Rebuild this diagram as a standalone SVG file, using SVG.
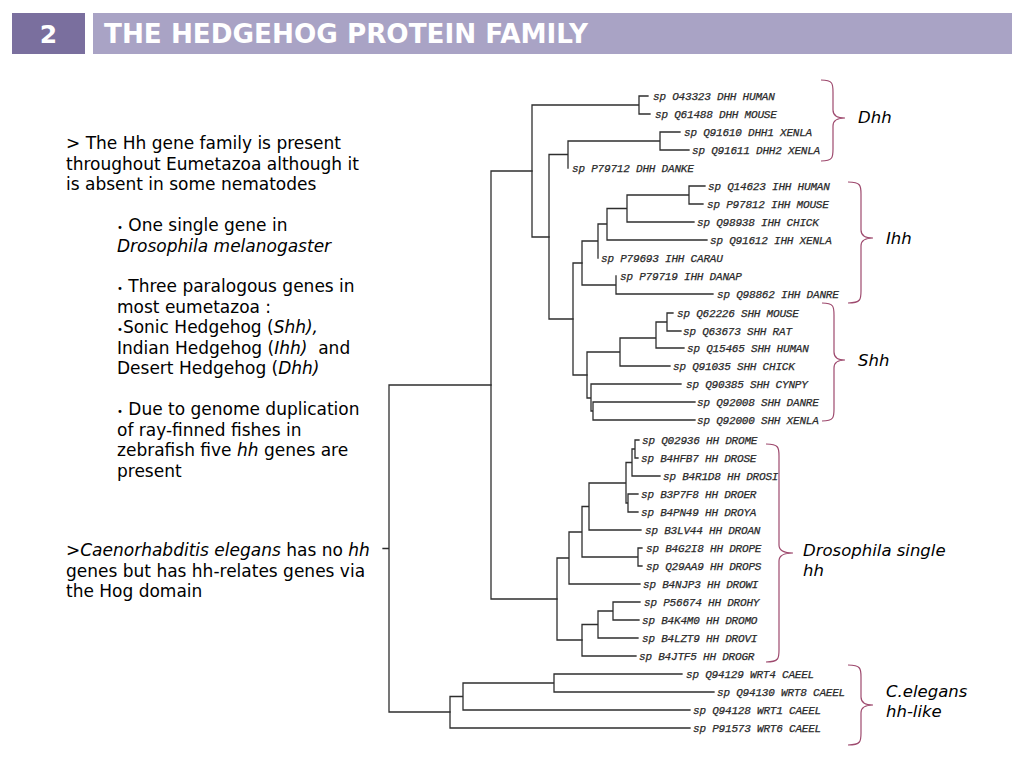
<svg xmlns="http://www.w3.org/2000/svg" width="1024" height="768" viewBox="0 0 1024 768">
<style>
.tree{fill:none;stroke:#2e2e2e;stroke-width:1.3;stroke-linecap:square}
.lf{font-family:"Liberation Mono",monospace;font-style:italic;font-size:11px;letter-spacing:-0.2px;fill:#2a2a2a;stroke:#2a2a2a;stroke-width:0.25}
.br{fill:none;stroke:#9e4a6e;stroke-width:1.2}
.gl{font-family:"DejaVu Sans",Verdana,sans-serif;font-style:italic;font-size:16.5px;fill:#000}
.tx{font-family:"DejaVu Sans",Verdana,sans-serif;font-size:17px;fill:#000}
.hd{font-family:"DejaVu Sans",Verdana,sans-serif;font-weight:bold;fill:#fff}
.bu{font-size:10px}
</style>
<rect width="1024" height="768" fill="#fff"/>
<g id="header">
<rect x="12" y="13" width="73" height="41" fill="#7a6f9e"/>
<rect x="93" y="13" width="919" height="41" fill="#a9a3c5"/>
<text class="hd" x="48.5" y="43" font-size="25" text-anchor="middle">2</text>
<text class="hd" x="104" y="43" font-size="26" textLength="484" lengthAdjust="spacingAndGlyphs">THE HEDGEHOG PROTEIN FAMILY</text>
</g>
<g id="text-left" class="tx">
<text x="66" y="149">&gt; The Hh gene family is present</text>
<text x="66" y="169.5">throughout Eumetazoa although it</text>
<text x="66" y="190">is absent in some nematodes</text>
<text x="117" y="231"><tspan class="bu">•</tspan> One single gene in</text>
<text x="117" y="251.5" font-style="italic">Drosophila melanogaster</text>
<text x="117" y="292"><tspan class="bu">•</tspan> Three paralogous genes in</text>
<text x="117" y="312.5">most eumetazoa :</text>
<text x="117" y="333"><tspan class="bu">•</tspan>Sonic Hedgehog (<tspan font-style="italic">Shh),</tspan></text>
<text x="117" y="353.5" xml:space="preserve" style="white-space:pre">Indian Hedgehog (<tspan font-style="italic">Ihh)</tspan>  and</text>
<text x="117" y="374">Desert Hedgehog (<tspan font-style="italic">Dhh)</tspan></text>
<text x="117" y="415"><tspan class="bu">•</tspan> Due to genome duplication</text>
<text x="117" y="435.5">of ray-finned fishes in</text>
<text x="117" y="456">zebrafish five <tspan font-style="italic">hh</tspan> genes are</text>
<text x="117" y="476.5">present</text>
<text x="66" y="556">&gt;<tspan font-style="italic">Caenorhabditis elegans</tspan> has no <tspan font-style="italic">hh</tspan></text>
<text x="66" y="576.5">genes but has hh-relates genes via</text>
<text x="66" y="597">the Hog domain</text>
</g>
<g id="connectors" class="tree">
<path d="M383,548.5H389M389,385V712M389,385H491M389,712H450"/>
<path d="M491,171V599M491,171H532M491,599H557"/>
<path d="M532,105V237M532,105H639M532,237H549M639,96V114M639,96H648M639,114H650"/>
<path d="M549,154.5V319M549,154.5H568M549,319H573M568,141V168M568,141H660M660,132V150M660,132H680M660,150H689"/>
<path d="M573,263V375M573,263H582M573,375H587"/>
<path d="M582,241V285M582,241H598M582,285H616M598,224V258M598,224H607M607,208.5V240M607,208.5H627M607,240H707M627,195V222M627,195H689M627,222H694M689,186V204M689,186H705M689,204H703M616,276V294M616,294H713"/>
<path d="M587,352V398M587,352H620M587,398H591M620,338V366M620,338H656M620,366H670M656,322V348M656,322H667M656,348H684M667,313V331M667,313H673M667,331H681M591,384V411M591,384H681M591,411H593M593,402V420M593,402H695M593,420H695"/>
<path d="M557,558V640M557,558H569M557,640H582M569,532V584M569,532H582M569,584H640M582,506.5V557M582,506.5H589M582,557H638M589,483V530M589,483H626M589,530H641M626,462.5V503M626,462.5H632M626,503H628M632,449V476M632,449H635M632,476H660M635,440V458M635,440H639M635,458H638M628,494V512M628,494H638M628,512H638M638,548V566M638,548H642M638,566H642"/>
<path d="M582,624.5V656M582,624.5H598M582,656H636M598,611V638M598,611H613M598,638H638M613,602V620M613,602H640M613,620H639"/>
<path d="M450,696.5V728M450,696.5H463M450,728H690M463,683V710M463,683H554M463,710H690M554,674V692M554,674H682M554,692H714"/>
</g>
<g id="leaves" class="lf">
<text x="653" y="99.5">sp O43323 DHH HUMAN</text>
<text x="655" y="117.5">sp Q61488 DHH MOUSE</text>
<text x="684" y="135.5">sp Q91610 DHH1 XENLA</text>
<text x="692" y="153.5">sp Q91611 DHH2 XENLA</text>
<text x="572" y="171.5">sp P79712 DHH DANKE</text>
<text x="708" y="189.5">sp Q14623 IHH HUMAN</text>
<text x="707" y="207.5">sp P97812 IHH MOUSE</text>
<text x="697" y="225.5">sp Q98938 IHH CHICK</text>
<text x="710" y="243.5">sp Q91612 IHH XENLA</text>
<text x="601" y="261.5">sp P79693 IHH CARAU</text>
<text x="620" y="279.5">sp P79719 IHH DANAP</text>
<text x="717" y="297.5">sp Q98862 IHH DANRE</text>
<text x="677" y="316.5">sp Q62226 SHH MOUSE</text>
<text x="683" y="334.5">sp Q63673 SHH RAT</text>
<text x="687" y="351.5">sp Q15465 SHH HUMAN</text>
<text x="673" y="369.5">sp Q91035 SHH CHICK</text>
<text x="686" y="387.5">sp Q90385 SHH CYNPY</text>
<text x="697" y="405.5">sp Q92008 SHH DANRE</text>
<text x="697" y="423.5">sp Q92000 SHH XENLA</text>
<text x="642" y="443.5">sp Q02936 HH DROME</text>
<text x="641" y="461.5">sp B4HFB7 HH DROSE</text>
<text x="663" y="479.5">sp B4R1D8 HH DROSI</text>
<text x="641" y="497.5">sp B3P7F8 HH DROER</text>
<text x="641" y="515.5">sp B4PN49 HH DROYA</text>
<text x="645" y="533.5">sp B3LV44 HH DROAN</text>
<text x="646" y="551.5">sp B4G2I8 HH DROPE</text>
<text x="646" y="569.5">sp Q29AA9 HH DROPS</text>
<text x="643" y="587.5">sp B4NJP3 HH DROWI</text>
<text x="644" y="605.5">sp P56674 HH DROHY</text>
<text x="642" y="623.5">sp B4K4M0 HH DROMO</text>
<text x="642" y="641.5">sp B4LZT9 HH DROVI</text>
<text x="639" y="659.5">sp B4JTF5 HH DROGR</text>
<text x="686" y="677.5">sp Q94129 WRT4 CAEEL</text>
<text x="717" y="695.5">sp Q94130 WRT8 CAEEL</text>
<text x="693" y="713.5">sp Q94128 WRT1 CAEEL</text>
<text x="693" y="731.5">sp P91573 WRT6 CAEEL</text>
</g>
<g id="group-dhh">
<path class="br" d="M821,80C833,80 833,84 833,92L833,110C833,116 837,118 845,118C837,118 833,120 833,126L833,149C833,157 833,161 821,161"/>
<text class="gl" x="858" y="123">Dhh</text>
</g>
<g id="group-ihh">
<path class="br" d="M848,182C861,182 861,186 861,194L861,230C861,236 865,238 873,238C865,238 861,240 861,246L861,291C861,299 861,303 848,303"/>
<text class="gl" x="886" y="244">Ihh</text>
</g>
<g id="group-shh">
<path class="br" d="M822,303C834,303 834,307 834,315L834,352C834,358 838,360 845,360C838,360 834,362 834,368L834,409C834,417 834,421 822,421"/>
<text class="gl" x="858" y="366">Shh</text>
</g>
<g id="group-dros">
<path class="br" d="M766,444C779,444 779,448 779,456L779,545C779,551 784,553 793,553C784,553 779,555 779,561L779,650C779,658 779,662 766,662"/>
<text class="gl" x="803" y="556">Drosophila single</text>
<text class="gl" x="803" y="576">hh</text>
</g>
<g id="group-cel">
<path class="br" d="M848,665C861,665 861,669 861,677L861,697C861,703 865,705 873,705C865,705 861,707 861,713L861,733C861,741 861,745 848,745"/>
<text class="gl" x="886" y="697">C.elegans</text>
<text class="gl" x="886" y="717">hh-like</text>
</g>
</svg>
